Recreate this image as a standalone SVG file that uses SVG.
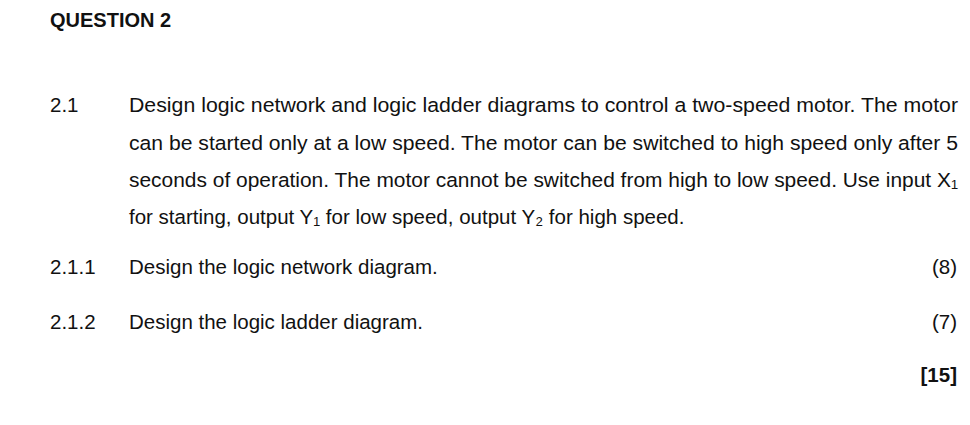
<svg xmlns="http://www.w3.org/2000/svg" width="970" height="425" viewBox="0 0 970 425">
<style>
text{font-family:"Liberation Sans",Arial,sans-serif;font-size:20.5px;fill:#111}
.b{font-weight:bold}
</style>
<rect width="970" height="425" fill="#fff"/>
<text class="b" x="50" y="27" style="font-size:20px">QUESTION 2</text>
<text x="50" y="112">2.1</text>
<text x="129" y="112" textLength="829" lengthAdjust="spacingAndGlyphs">Design logic network and logic ladder diagrams to control a two-speed motor. The motor</text>
<text x="129" y="150" textLength="829" lengthAdjust="spacingAndGlyphs">can be started only at a low speed. The motor can be switched to high speed only after 5</text>
<text x="129" y="187" textLength="829" lengthAdjust="spacingAndGlyphs">seconds of operation. The motor cannot be switched from high to low speed. Use input X₁</text>
<text x="129" y="224">for starting, output Y₁ for low speed, output Y₂ for high speed.</text>
<text x="50" y="274">2.1.1</text>
<text x="129" y="274">Design the logic network diagram.</text>
<text x="957" y="274" text-anchor="end">(8)</text>
<text x="50" y="329">2.1.2</text>
<text x="129" y="329">Design the logic ladder diagram.</text>
<text x="957" y="329" text-anchor="end">(7)</text>
<text class="b" x="957" y="382" text-anchor="end">[15]</text>
</svg>
